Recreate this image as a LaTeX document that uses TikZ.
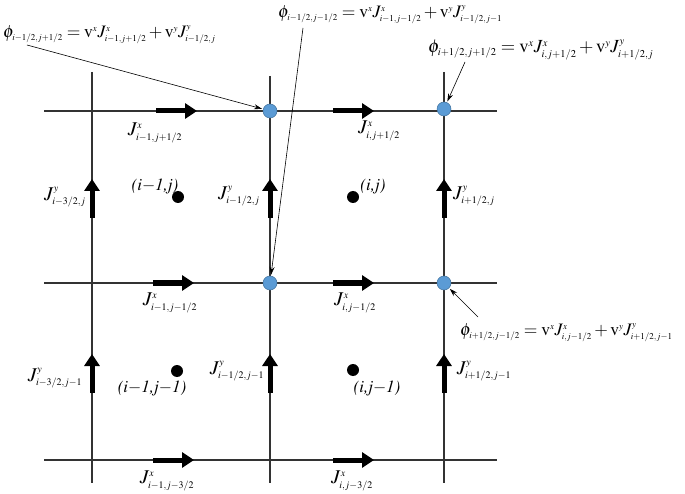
\documentclass[tikz,border=0pt]{standalone}
\usepackage[T1]{fontenc}
\usepackage{mathptmx}
\usetikzlibrary{arrows.meta}
\DeclareMathSizes{19.5}{19.5}{10}{7}
\DeclareMathSizes{18.5}{18.5}{10.5}{7}
\DeclareMathSizes{17.5}{17.5}{9}{6}
\definecolor{dotblue}{HTML}{5B9BD5}
\definecolor{dotedge}{HTML}{41719C}
\definecolor{gridc}{HTML}{333333}
\newcommand{\vv}{\mathrm{v}}
\tikzset{
  gridline/.style={draw=gridc, line width=1.1pt},
  flux/.style={line width=5pt, -{Triangle[length=12pt,width=15pt]}},
  bluedot/.style={circle, fill=dotblue, draw=dotedge, line width=0.5pt, minimum size=14pt, inner sep=0pt},
  cell/.style={circle, fill=black, minimum size=12pt, inner sep=0pt},
  jlab/.style={inner sep=0pt, font=\fontsize{19.5}{22}\selectfont},
  clab/.style={inner sep=0pt, font=\fontsize{17}{20}\selectfont\itshape},
  plab/.style={inner sep=0pt, anchor=west, font=\fontsize{17.5}{21}\selectfont},
  plabL/.style={inner sep=0pt, anchor=west, font=\fontsize{18.5}{21}\selectfont},
  pointer/.style={line width=0.6pt, -{Stealth[length=8pt,width=5pt]}, shorten >=1pt},
}
\begin{document}
\begin{tikzpicture}[x=1pt,y=-1pt]
\useasboundingbox (0,0) rectangle (685,494);
% grid
\draw[gridline] (44,111) -- (497,111);
\draw[gridline] (44,283) -- (497,283);
\draw[gridline] (44,460) -- (497,460);
\draw[gridline] (92,72) -- (92,483);
\draw[gridline] (270,76) -- (270,483);
\draw[gridline] (444,72) -- (444,483);
% horizontal fluxes
\draw[flux] (156,111) -- (197,111);
\draw[flux] (333,111) -- (374,111);
\draw[flux] (153,283) -- (194,283);
\draw[flux] (333,283) -- (374,283);
\draw[flux] (153,460) -- (194,460);
\draw[flux] (333,460) -- (374,460);
% vertical fluxes
\draw[flux] (92,218) -- (92,179);
\draw[flux] (270,218) -- (270,179);
\draw[flux] (444,218) -- (444,179);
\draw[flux] (92,393) -- (92,354);
\draw[flux] (270,393) -- (270,354);
\draw[flux] (444,393) -- (444,354);
% nodes
\node[bluedot] (d1) at (270,111) {};
\node[bluedot] (d2) at (444,109) {};
\node[bluedot] (d3) at (270,283) {};
\node[bluedot] (d4) at (444,283) {};
\node[cell] (c1) at (178,197) {};
\node[cell] (c2) at (353,197) {};
\node[cell] (c3) at (177,371) {};
\node[cell] (c4) at (353,370) {};
% cell labels
\node[clab] (l1) at (155,186) {(i$-$1,j)};
\node[clab] (l2) at (373,186) {(i,j)};
\node[clab] (l3) at (152,388) {(i$-$1,j$-$1)};
\node[clab] (l4) at (377,388) {(i,j$-$1)};
% flux labels
\node[jlab] (jx1) at (155,133) {$J^{x}_{i-1,j+1/2}$};
\node[jlab] (jx2) at (379,131) {$J^{x}_{i,j+1/2}$};
\node[jlab] (jx3) at (170,303) {$J^{x}_{i-1,j-1/2}$};
\node[jlab] (jx4) at (355,303) {$J^{x}_{i,j-1/2}$};
\node[jlab] (jx5) at (167,481) {$J^{x}_{i-1,j-3/2}$};
\node[jlab] (jx6) at (352,481) {$J^{x}_{i,j-3/2}$};
\node[jlab] (jy1) at (65,197) {$J^{y}_{i-3/2,j}$};
\node[jlab] (jy2) at (239,196) {$J^{y}_{i-1/2,j}$};
\node[jlab] (jy3) at (474,196) {$J^{y}_{i+1/2,j}$};
\node[jlab] (jy4) at (55,378) {$J^{y}_{i-3/2,j-1}$};
\node[jlab] (jy5) at (237,371) {$J^{y}_{i-1/2,j-1}$};
\node[jlab] (jy6) at (484,371) {$J^{y}_{i+1/2,j-1}$};
% phi labels
\node[plab] (p1) at (3,35) {$\phi_{i-1/2,j+1/2}=\vv^{x}J^{x}_{i-1,j+1/2}+\vv^{y}J^{y}_{i-1/2,j}$};
\node[plab] (p2) at (278,15) {$\phi_{i-1/2,j-1/2}=\vv^{x}J^{x}_{i-1,j-1/2}+\vv^{y}J^{y}_{i-1/2,j-1}$};
\node[plabL] (p3) at (428,50) {$\phi_{i+1/2,j+1/2}=\vv^{x}J^{x}_{i,j+1/2}+\vv^{y}J^{y}_{i+1/2,j}$};
\node[plab] (p4) at (460,333) {$\phi_{i+1/2,j-1/2}=\vv^{x}J^{x}_{i,j-1/2}+\vv^{y}J^{y}_{i+1/2,j-1}$};
% pointer start points
\coordinate (s1) at (27,45);
\coordinate (s2) at (303,28);
\coordinate (s3) at (465,62);
\coordinate (s4) at (478,317);
\draw[pointer] (s1) -- (d1);
\draw[pointer] (s2) -- (d3);
\draw[pointer] (s3) -- (d2);
\draw[pointer] (s4) -- (d4);
\end{tikzpicture}
\end{document}
